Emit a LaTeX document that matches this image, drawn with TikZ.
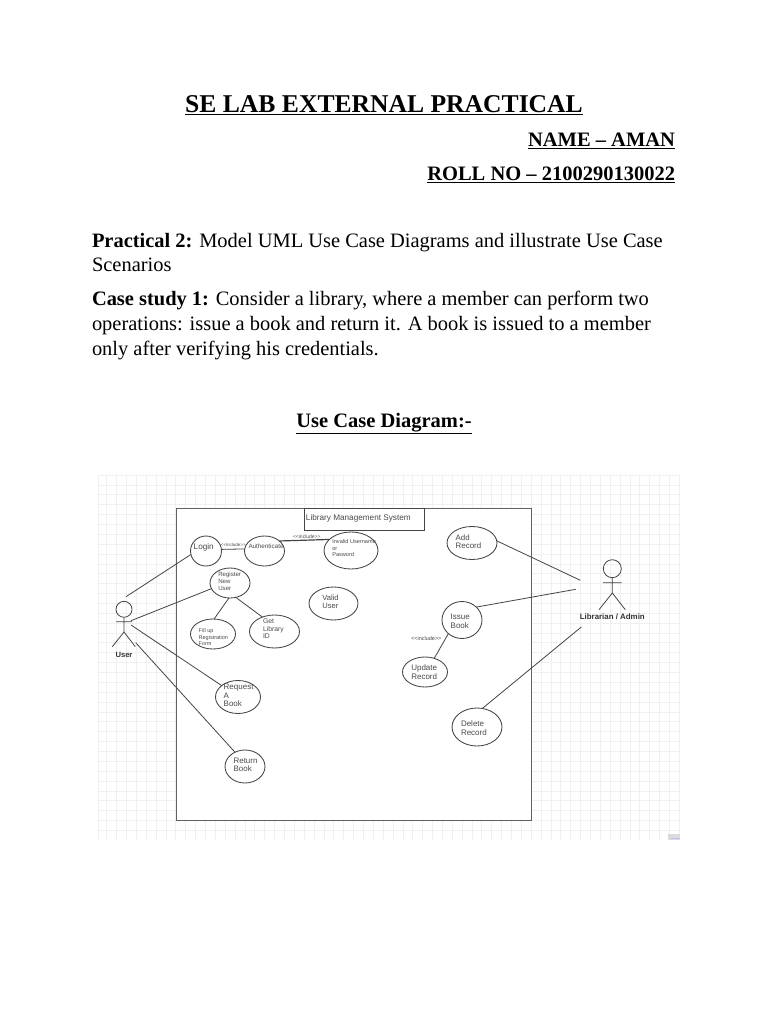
\documentclass[tikz,border=0pt]{standalone}
\usepackage{fontspec}
\setmainfont{Liberation Serif}
\newfontfamily\diagfont{Liberation Sans}
\usetikzlibrary{shapes.geometric}
\definecolor{ink}{HTML}{4A4A4A}
\definecolor{wire}{HTML}{444444}
\definecolor{gridc}{HTML}{F0F0F0}
\newcommand{\ucell}[5]{\raisebox{\dimexpr #2pt - 2.7pt\relax}[0pt][0pt]{\makebox[0pt][l]{\hspace*{#1pt}\fontsize{#3}{#4}\diagfont\color{ink}\begin{tabular}[c]{@{}l@{}}#5\end{tabular}}}}
\tikzset{
  usecase/.style={ellipse,draw=wire,fill=white,line width=0.85pt,inner sep=0pt,outer sep=0pt},
  conn/.style={draw=wire,line width=0.8pt},
  pagetext/.style={inner sep=0pt,outer sep=0pt,text=black},
  stereo/.style={inner sep=0pt,text=ink,font=\diagfont},
  actorname/.style={inner sep=0pt,text=black!80,font=\diagfont\bfseries},
  stick/.style={draw=wire,line width=0.8pt}
}
\begin{document}
\begin{tikzpicture}[x=1pt,y=-1pt]
\useasboundingbox (0,0) rectangle (768,1024);
\fill[white] (0,0) rectangle (768,1024);
% page text
\node[pagetext,anchor=center,font=\fontsize{25.6}{28}\selectfont\bfseries] (title) at (384,105) {\underline{SE LAB EXTERNAL PRACTICAL}};
\node[pagetext,anchor=east,font=\fontsize{20.5}{24}\selectfont\bfseries] (name) at (675,141) {\underline{NAME – AMAN}};
\node[pagetext,anchor=east,font=\fontsize{20.5}{24}\selectfont\bfseries] (roll) at (675,175) {\underline{ROLL NO – 2100290130022}};
\node[pagetext,anchor=west,align=left,font=\fontsize{20.45}{24}\selectfont] (prac) at (92,253) {\textbf{Practical 2:} Model UML Use Case Diagrams and illustrate Use Case\\Scenarios};
\node[pagetext,anchor=west,align=left,font=\fontsize{20.45}{25}\selectfont] (case) at (92,326) {\textbf{Case study 1:} Consider a library, where a member can perform two\\operations: issue a book and return it. A book is issued to a member\\only after verifying his credentials.};
\node[pagetext,anchor=center,font=\fontsize{20.5}{24}\selectfont\bfseries] (uch) at (384,423.5) {\underline{Use Case Diagram:-}};
% grid
\foreach \i in {0,...,58} {\draw[gridc,line width=0.6pt] ({106.7+\i*9.87},475) -- ({106.7+\i*9.87},840);}
\draw[gridc,line width=0.6pt] (98,475) -- (98,840);
\foreach \i in {0,...,36} {\draw[gridc,line width=0.6pt] (98,{475+\i*9.87}) -- (680,{475+\i*9.87});}
\fill[black!14] (668,834) rectangle (680,840);
\draw[blue!25,line width=0.6pt] (671,838.5) -- (680,838.5);
% system boundary
\node[draw=black!62,fill=white,line width=1.2pt,minimum width=355pt,minimum height=312pt,inner sep=0pt,anchor=north west] (sys) at (176,508) {};
\node[draw=wire,fill=white,line width=0.8pt,minimum width=119.5pt,minimum height=22pt,inner sep=0pt,anchor=north west,text=ink,font=\fontsize{8.2}{10}\diagfont] (systitle) at (304.2,508) {\hspace*{-12pt}\raisebox{3.5pt}{Library Management System}};
% use cases
\node[usecase,minimum width=31pt,minimum height=30pt] (login) at (206,551) {\ucell{-12.3}{4}{8.2}{9}{Login}};
\node[usecase,minimum width=40pt,minimum height=30pt] (auth) at (264.5,551) {\ucell{-16}{5}{6.3}{7}{Authenticate}};
\node[usecase,minimum width=54pt,minimum height=37pt] (invalid) at (351,550.5) {\ucell{-18.7}{3}{5.6}{6.5}{Invalid Username\\or\\Pasword}};
\node[usecase,minimum width=40pt,minimum height=30pt] (reg) at (230,583) {\ucell{-11.7}{2}{6.1}{6.7}{Register\\New\\User}};
\node[usecase,minimum width=49pt,minimum height=33pt] (valid) at (333.5,603.5) {\ucell{-11.2}{1.5}{7.6}{7.7}{Valid\\User}};
\node[usecase,minimum width=45pt,minimum height=30pt] (fill) at (213,634) {\ucell{-14.3}{-2.3}{5.5}{6.3}{Fill up\\Registration\\Form}};
\node[usecase,minimum width=50pt,minimum height=33pt] (get) at (274.5,631.5) {\ucell{-11.5}{2.8}{6.8}{7.7}{Get\\Library\\ID}};
\node[usecase,minimum width=45pt,minimum height=33pt] (req) at (238,697) {\ucell{-14.3}{1.3}{8}{8.7}{Request\\A\\Book}};
\node[usecase,minimum width=40pt,minimum height=33pt] (ret) at (245,766.5) {\ucell{-11.3}{1.5}{7.9}{7.7}{Return\\Book}};
\node[usecase,minimum width=50pt,minimum height=33pt] (add) at (472,543) {\ucell{-16.3}{1}{7.9}{8.7}{Add\\Record}};
\node[usecase,minimum width=40pt,minimum height=37pt] (issue) at (462,620) {\ucell{-11.3}{-1}{8}{9}{Issue\\Book}};
\node[usecase,minimum width=45pt,minimum height=30pt] (upd) at (425,672) {\ucell{-13.7}{-0.8}{8}{9}{Update\\Record}};
\node[usecase,minimum width=50pt,minimum height=38pt] (del) at (477,727) {\ucell{-16}{-1.7}{8}{8.7}{Delete\\Record}};
% actors
\node[circle,draw=wire,line width=0.8pt,minimum size=16pt,inner sep=0pt] (userhead) at (124,609.3) {};
\coordinate (uarmL) at (116,621.7); \coordinate (uarmR) at (132,621.7);
\coordinate (uhip) at (124,632); \coordinate (ulegL) at (112.3,646.7); \coordinate (ulegR) at (135.3,646.7);
\draw[stick] (userhead) -- (uhip) (uarmL) -- (uarmR) (ulegL) -- (uhip) -- (ulegR);
\node[actorname,font=\fontsize{7.6}{9}\diagfont\bfseries] (username) at (124,655) {User};
\node[circle,draw=wire,line width=0.8pt,minimum size=18pt,inner sep=0pt] (libhead) at (612.3,568.7) {};
\coordinate (larmL) at (603,582.7); \coordinate (larmR) at (621.7,582.7);
\coordinate (lhip) at (612.3,593); \coordinate (llegL) at (599,609.7); \coordinate (llegR) at (625.3,609.7);
\draw[stick] (libhead) -- (lhip) (larmL) -- (larmR) (llegL) -- (lhip) -- (llegR);
\node[actorname,font=\fontsize{7.9}{9}\diagfont\bfseries] (libname) at (612.3,617) {Librarian / Admin};
% free ends of connectors
\coordinate (uLogin) at (126,596.7);
\coordinate (uReg) at (131,620.7);
\coordinate (uReq) at (131,625);
\coordinate (uRet) at (135.7,642.7);
\coordinate (lAdd) at (580.3,580.3);
\coordinate (lIssue) at (575.7,589.3);
\coordinate (lDel) at (581.3,627);
% connectors
\draw[conn] (login.193) -- (uLogin);
\draw[conn] (reg.197) -- (uReg);
\draw[conn] (req.145) -- (uReq);
\draw[conn] (ret.125) -- (uRet);
\draw[conn] (login.6) -- (auth.174);
\draw[conn,line width=1.2pt] (auth.34) -- (invalid.153);
\draw[conn] (reg.266) -- (fill.86);
\draw[conn] (reg.-68) -- (get.130);
\draw[conn] (add.5) -- (lAdd);
\draw[conn] (issue.42) -- (lIssue);
\draw[conn] (issue.-135) -- (upd.56);
\draw[conn] (del.74) -- (lDel);
% stereotypes
\node[stereo,font=\fontsize{4.5}{5}\diagfont] (inc1) at (233.3,545.3) {<{}<include>{}>};
\node[stereo,font=\fontsize{5}{6}\diagfont] (inc2) at (306.8,536.7) {<{}<include>{}>};
\node[stereo,font=\fontsize{5.5}{6}\diagfont] (inc3) at (426.3,639) {<{}<include>{}>};
\end{tikzpicture}
\end{document}
